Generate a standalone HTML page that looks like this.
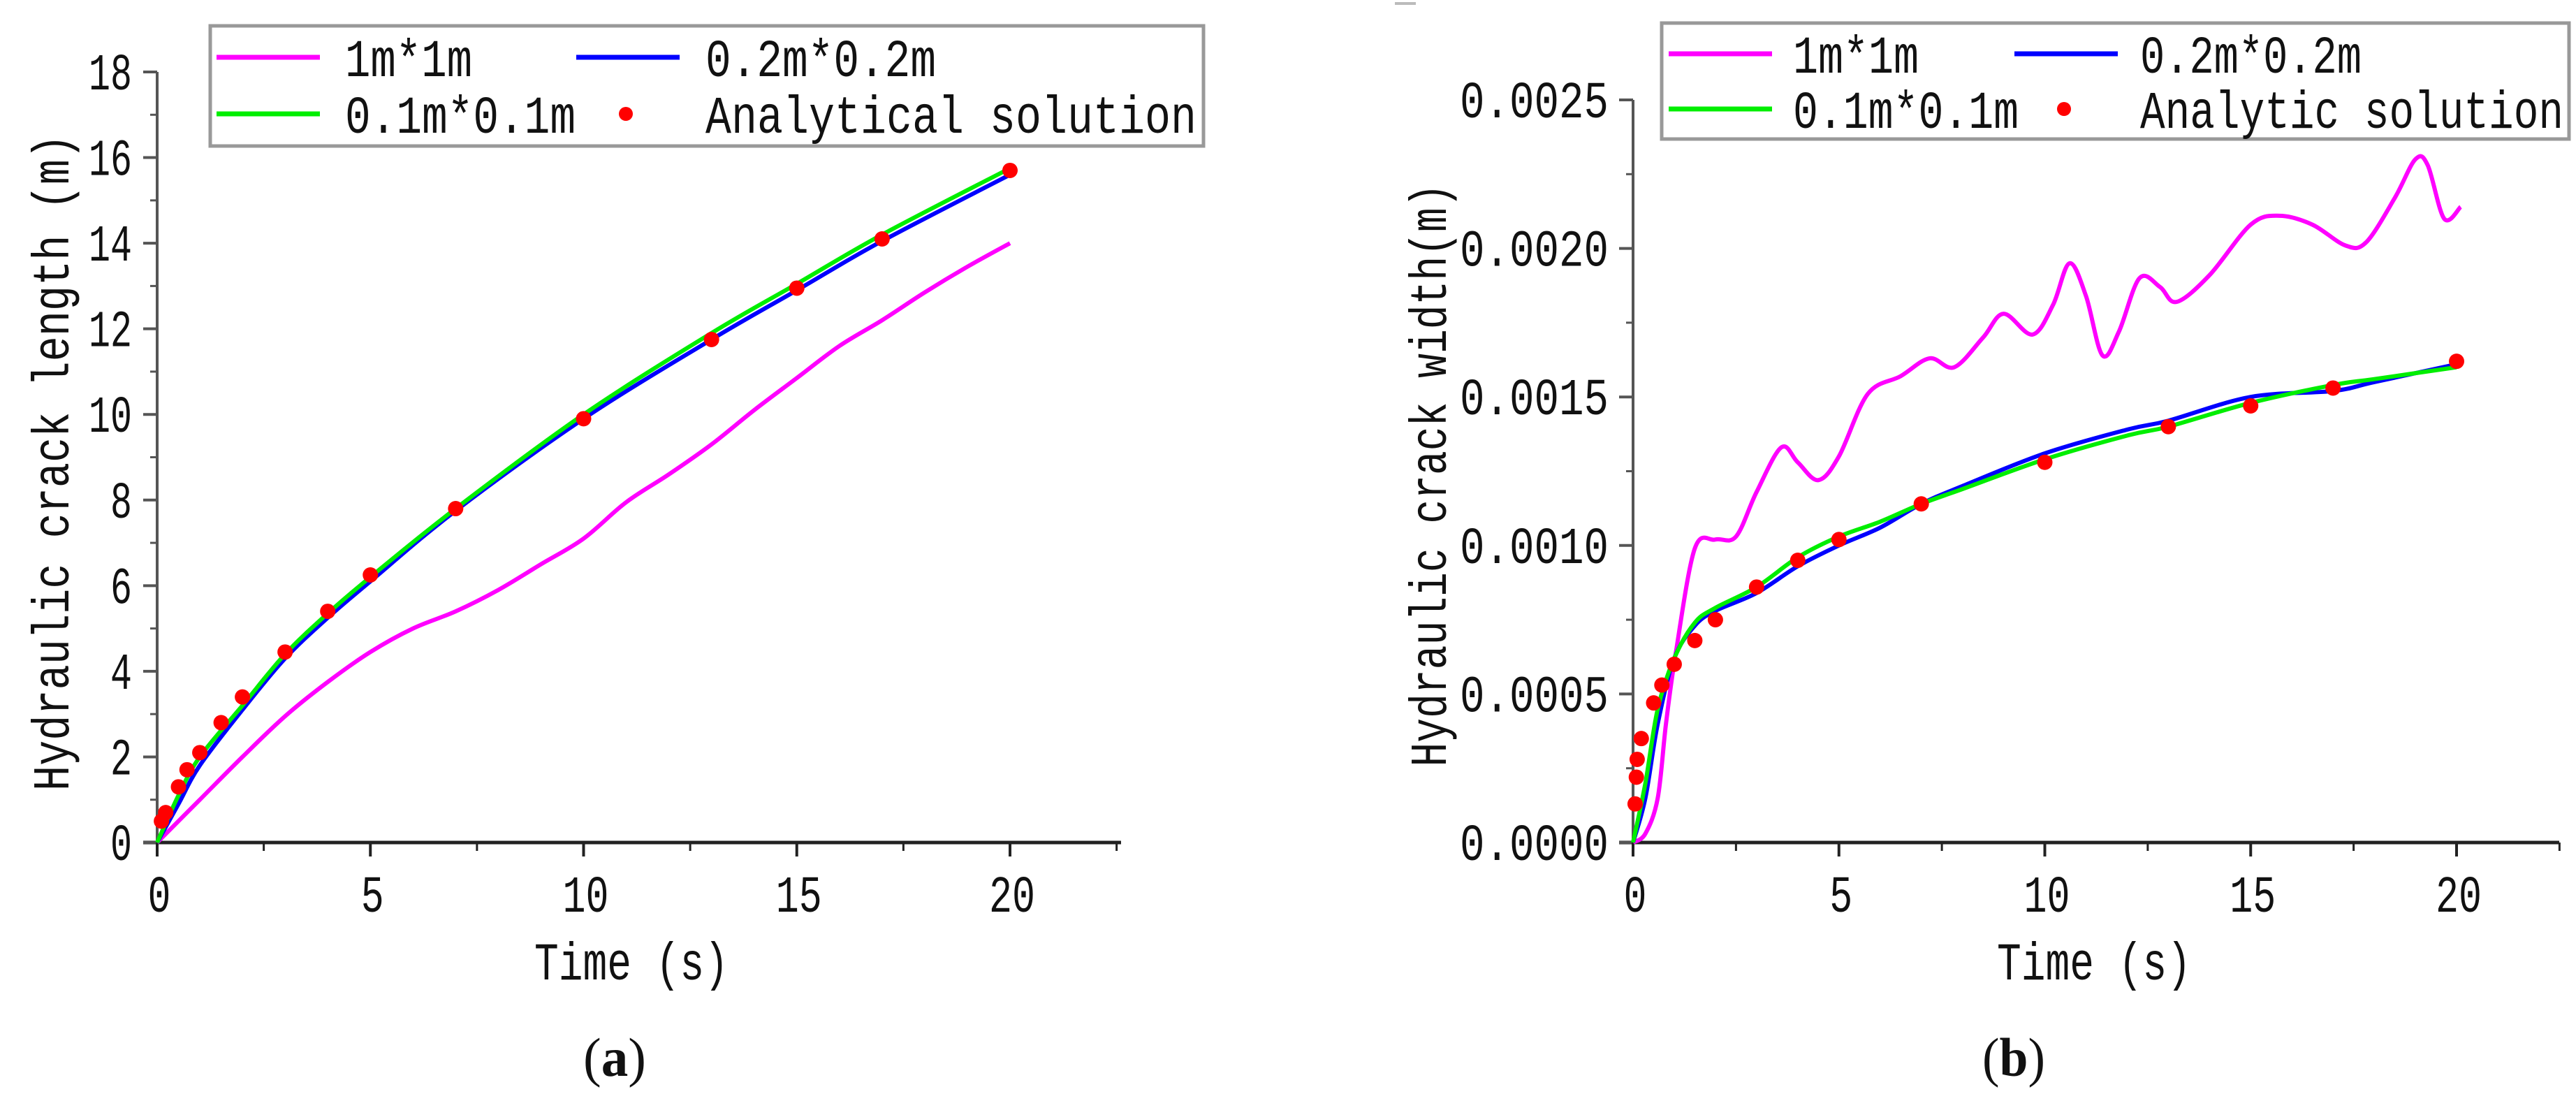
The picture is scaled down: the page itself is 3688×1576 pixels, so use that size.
<!DOCTYPE html>
<html><head><meta charset="utf-8"><style>
html,body{margin:0;padding:0;background:#fff;}
svg{display:block;}
text{font-family:"Liberation Mono","Noto Sans CJK SC",monospace;fill:#111;}
.cap{font-family:"Liberation Serif",serif;}
</style></head><body>
<svg id="fig" width="3688" height="1576" viewBox="0 0 3688 1576" xmlns="http://www.w3.org/2000/svg">
<rect x="1997" y="3" width="30" height="4" fill="#bbb"/>
</svg>
<script>
// ---- Chart (a) data ----
const aMagT=[0,1,2,3,4,5,6,7,8,9,10,11,12,13,14,15,16,17,18,19,20];
const aMagV=[0,1.0,2.0,2.95,3.75,4.45,5.0,5.4,5.9,6.5,7.1,7.95,8.6,9.3,10.1,10.85,11.6,12.2,12.85,13.45,14.0];
const aBlueT=[0,0.5,1,2,3,4,5,7,10,13,15,17,20];
const aBlueV=[0,0.9,1.8,3.1,4.3,5.25,6.1,7.75,9.9,11.75,12.9,14.05,15.6];
const aGreenT=[0,0.5,1,2,3,4,5,7,10,13,15,17,20];
const aGreenV=[0,1.1,2.0,3.2,4.4,5.35,6.2,7.8,10.0,11.9,13.05,14.2,15.75];
const aAnT=[0.1,0.2,0.5,0.7,1,1.5,2,3,4,5,7,10,13,15,17,20];
const aAnV=[0.5,0.7,1.3,1.7,2.1,2.8,3.4,4.45,5.4,6.25,7.8,9.9,11.75,12.95,14.1,15.7];
const aYTicks=[0,2,4,6,8,10,12,14,16,18];
const aYLabels=["0","2","4","6","8","10","12","14","16","18"];
const xTicks=[0,5,10,15,20];
const xLabels=["0","5","10","15","20"];
// ---- Chart (b) data ----
const bMagT=[0,0.3,0.6,0.8,1.04,1.5,2,2.5,3,3.6,4,4.5,5,5.7,6.5,7.2,7.8,8.5,9,9.7,10.2,10.6,11,11.4,11.8,12.3,12.8,13.2,14,15,15.7,16.5,17.3,17.8,18.5,19,19.3,19.7,20.1];
const bMagV=[0,0.00003,0.00015,0.0004,0.00064,0.00099,0.00102,0.00103,0.00118,0.00133,0.00128,0.00122,0.0013,0.00151,0.00157,0.00163,0.0016,0.0017,0.00178,0.00171,0.00181,0.00195,0.00184,0.00164,0.00172,0.0019,0.00187,0.00182,0.00191,0.00208,0.00211,0.00208,0.00201,0.00202,0.00217,0.0023,0.00228,0.0021,0.00214];
const bBlueT=[0,0.3,0.6,1,1.5,2,3,4,5,6,7,8,10,12,13,15,17,18,20];
const bBlueV=[0,0.00015,0.0004,0.00062,0.00073,0.00078,0.00084,0.00093,0.001,0.00106,0.00114,0.0012,0.00131,0.00139,0.00142,0.0015,0.00152,0.00155,0.00161];
const bGreenT=[0,0.3,0.6,1,1.5,2,3,4,5,6,7,8,10,12,13,15,17,18,20];
const bGreenV=[0,0.0002,0.00045,0.00062,0.00074,0.00079,0.00086,0.00096,0.00103,0.00108,0.00114,0.00119,0.00129,0.00137,0.0014,0.00148,0.00154,0.00156,0.0016];
const bAnT=[0.05,0.08,0.1,0.2,0.5,0.7,1,1.5,2,3,4,5,7,10,13,15,17,20];
const bAnV=[0.00013,0.00022,0.00028,0.00035,0.00047,0.00053,0.0006,0.00068,0.00075,0.00086,0.00095,0.00102,0.00114,0.00128,0.0014,0.00147,0.00153,0.00162];
const bYTicks=[0,0.0005,0.001,0.0015,0.002,0.0025];
const bYLabels=["0.0000","0.0005","0.0010","0.0015","0.0020","0.0025"];

const NS="http://www.w3.org/2000/svg";
const svg=document.getElementById('fig');
function mk(tag,attrs,parent,txt){const e=document.createElementNS(NS,tag);for(const k in attrs)e.setAttribute(k,attrs[k]);if(txt!==undefined)e.textContent=txt;(parent||svg).appendChild(e);return e;}
function tx(x,y,str,len,fs,anchor,parent,extra){
  const a={x:x,y:y,'font-size':fs,'text-anchor':anchor||'start',textLength:len,lengthAdjust:'spacingAndGlyphs'};
  if(extra)for(const k in extra)a[k]=extra[k];
  return mk('text',a,parent,str);
}
function pathFrom(xs,ys,sx,sy){
  const p=xs.map((t,i)=>[sx(t),sy(ys[i])]);
  let d="M"+p[0][0]+","+p[0][1];
  for(let i=0;i<p.length-1;i++){
    const p0=p[Math.max(0,i-1)],p1=p[i],p2=p[i+1],p3=p[Math.min(p.length-1,i+2)];
    const c1x=p1[0]+(p2[0]-p0[0])/6,c1y=p1[1]+(p2[1]-p0[1])/6;
    const c2x=p2[0]-(p3[0]-p1[0])/6,c2y=p2[1]-(p3[1]-p1[1])/6;
    d+=" C"+c1x+","+c1y+" "+c2x+","+c2y+" "+p2[0]+","+p2[1];
  }
  return d;
}
function chart(cfg){
  const g=mk('g',{});
  
  
  const sx=t=>cfg.x0+(t)*(cfg.x20-cfg.x0)/20;
  const sy=v=>cfg.y0-(v-0)*(cfg.y0-cfg.yTop)/cfg.yMax;
  const ya=mk('line',{x1:cfg.x0,y1:cfg.y0+12,x2:cfg.x0,y2:cfg.yTop,stroke:'#555','stroke-width':4},g);
  
  const xa=mk('line',{x1:cfg.x0-20,y1:cfg.y0,x2:cfg.xEnd,y2:cfg.y0,stroke:'#222','stroke-width':5},g);
  
  cfg.yTicks.forEach((v,i)=>{
    mk('line',{x1:cfg.x0-20,y1:sy(v),x2:cfg.x0,y2:sy(v),stroke:'#555','stroke-width':4},g);
    if(i<cfg.yTicks.length-1){const m=(v+cfg.yTicks[i+1])/2;mk('line',{x1:cfg.x0-10,y1:sy(m),x2:cfg.x0,y2:sy(m),stroke:'#555','stroke-width':3},g);}
    const s=cfg.yLabels[i];
    const t=tx(cfg.yLabRight,sy(v)+25,s,s.length*cfg.yCharW,74,'end',g);
    
  });
  for(let k=2.5;k<=22.5;k+=5){mk('line',{x1:sx(k),y1:cfg.y0,x2:sx(k),y2:cfg.y0+12,stroke:'#222','stroke-width':3},g);}
  xTicks.forEach((v,i)=>{
    mk('line',{x1:sx(v),y1:cfg.y0,x2:sx(v),y2:cfg.y0+20,stroke:'#222','stroke-width':4},g);
    const s=xLabels[i];
    const t=tx(sx(v)+3,1305,s,s.length*33,74,'middle',g);
    
  });
  const series=[[cfg.mag,'#ff00ff','series-1m'],[cfg.blue,'#0000ff','series-0.2m'],[cfg.green,'#00ee00','series-0.1m']];
  series.forEach(s=>{
    const p=mk('path',{d:pathFrom(s[0][0],s[0][1],sx,sy),fill:'none',stroke:s[1],'stroke-width':6,'stroke-linejoin':'round'},g);
    
  });
  cfg.an[0].forEach((t,i)=>{
    const c=mk('circle',{cx:sx(t),cy:sy(cfg.an[1][i]),r:11,fill:'#ff0000'},g);
    
  });
  const yt=tx(0,0,cfg.yTitle,cfg.ytLen,74,'middle',g,{transform:'translate('+cfg.ytx+','+cfg.yty+') rotate(-90)',fill:'#222'});
  
  const xt=tx(cfg.xtx,1402,'Time (s)',278,76,'middle',g);
  
  const cap=mk('text',{x:cfg.capx,y:1540,'font-size':78,'text-anchor':'middle','class':'cap',textLength:90,lengthAdjust:'spacingAndGlyphs'},g);
  
  mk('tspan',{},cap,'(');mk('tspan',{'font-weight':'bold'},cap,cfg.cap);mk('tspan',{},cap,')');
  const L=cfg.leg;
  const lg=mk('g',{},g);
  
  mk('rect',{x:L.x,y:L.y,width:L.w,height:L.h,fill:'#fff',stroke:'#999','stroke-width':5},lg);
  const r1=L.r1,r2=L.r2;
  mk('line',{x1:L.l1,y1:r1,x2:L.l1+148,y2:r1,stroke:'#ff00ff','stroke-width':7},lg);
  tx(L.t1,r1+27,'1m*1m',L.w1,76,'start',lg);
  mk('line',{x1:L.l2,y1:r1,x2:L.l2+148,y2:r1,stroke:'#0000ff','stroke-width':7},lg);
  tx(L.t2,r1+27,'0.2m*0.2m',L.w2,76,'start',lg);
  mk('line',{x1:L.l1,y1:r2,x2:L.l1+148,y2:r2,stroke:'#00ee00','stroke-width':7},lg);
  tx(L.t1,r2+27,'0.1m*0.1m',L.w3,76,'start',lg);
  mk('circle',{cx:L.dot,cy:r2,r:10,fill:'#ff0000'},lg);
  tx(L.t2,r2+27,cfg.anName,L.w4,76,'start',lg);
}
chart({name:'chart-a',x0:225,x20:1446,xEnd:1605,y0:1206,yTop:103,yMax:18,yTicks:aYTicks,yLabels:aYLabels,yLabRight:189,yCharW:31,
  mag:[aMagT,aMagV],blue:[aBlueT,aBlueV],green:[aGreenT,aGreenV],an:[aAnT,aAnV],
  yTitle:'Hydraulic crack length (m)',ytLen:940,ytx:98,yty:662,xtx:904,capx:880,cap:'a',anName:'Analytical solution',
  leg:{x:301,y:37,w:1422,h:172,r1:82,r2:163,l1:310,t1:494,l2:825,t2:1010,dot:896,w1:182,w2:330,w3:330,w4:703}});
chart({name:'chart-b',x0:2338,x20:3517,xEnd:3664,y0:1206,yTop:143,yMax:0.0025,yTicks:bYTicks,yLabels:bYLabels,yLabRight:2303,yCharW:35.5,
  mag:[bMagT,bMagV],blue:[bBlueT,bBlueV],green:[bGreenT,bGreenV],an:[bAnT,bAnV],
  yTitle:'Hydraulic crack width(m)',ytLen:835,ytx:2070,yty:680,xtx:2998,capx:2883,cap:'b',anName:'Analytic solution',
  leg:{x:2379,y:33,w:1299,h:166,r1:77,r2:156,l1:2389,t1:2567,l2:2884,t2:3064,dot:2955,w1:180,w2:317,w3:323,w4:606}});
</script>
</body></html>
